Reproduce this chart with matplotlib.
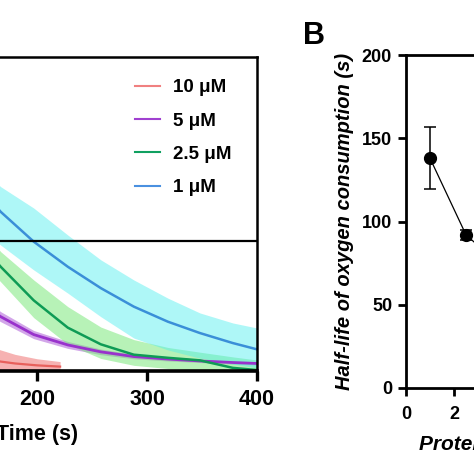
import numpy as np
import matplotlib
matplotlib.use("Agg")
import matplotlib.pyplot as plt

plt.rcParams['font.family'] = ['Liberation Sans', 'DejaVu Sans']

# panel A: oxygen traces (mean and band)
t = [160, 167, 197, 228, 258, 288, 319, 348, 378, 400]

blue_mid = [53.5, 50.7, 41.2, 33.2, 26.4, 20.5, 15.7, 12.1, 8.9, 6.9]
blue_hi = [61, 58.7, 51.9, 43.3, 35.4, 29, 23.2, 18.5, 15.3, 13.7]
blue_lo = [42, 40.1, 32.2, 24.8, 17.3, 10.5, 6.7, 4.1, 2.2, 1.0]

green_mid = [36, 33.2, 22.5, 13.8, 8.5, 5.2, 4.2, 3.4, 1.0, 0.3]
green_hi = [41, 38, 29, 20.5, 14, 10, 7.5, 6, 4.5, 3.5]
green_lo = [31, 28.4, 17, 8.5, 4, 1.8, 0.8, 0.3, 0, 0]

purple_mid = [19, 17.3, 11.6, 8.3, 6.1, 4.6, 3.8, 3.2, 2.7, 2.4]
purple_hi = [20.8, 18.9, 12.9, 9.4, 7.0, 5.3, 4.4, 3.7, 3.2, 2.9]
purple_lo = [17.2, 15.7, 10.3, 7.2, 5.2, 3.9, 3.2, 2.7, 2.2, 1.9]

t_red = [160, 167, 180, 200, 221]
red_mid = [3.5, 3.0, 2.4, 1.8, 1.4]
red_hi = [7.5, 6.7, 5.3, 3.9, 3.0]
red_lo = [0, 0, 0, 0, 0]

half_line = 41.4

# panel B: half-life vs protein concentration
conc = [1, 2.5, 5, 10]
half_life = [138, 92, 60, 35]
half_err = [18.5, 3, 3, 2]

fig = plt.figure(figsize=(4.74, 4.74), dpi=100)

# left panel sticks out past the left edge of the picture
ax1 = fig.add_axes([-183/474, 1 - 371/474, 440/474, 314/474])
ax1.fill_between(t_red, red_lo, red_hi, color='#F08080', alpha=0.6, lw=0)
ax1.fill_between(t, purple_lo, purple_hi, color='#C080E0', alpha=0.7, lw=0)
ax1.fill_between(t, green_lo, green_hi, color='#7CE87C', alpha=0.55, lw=0)
ax1.fill_between(t, blue_lo, blue_hi, color='#4DEEEE', alpha=0.45, lw=0)
l1, = ax1.plot(t_red, red_mid, color='#E8605C', lw=1.6, label='10 μM')
l2, = ax1.plot(t, purple_mid, color='#9932CC', lw=2.0, label='5 μM')
l3, = ax1.plot(t, green_mid, color='#0E9B55', lw=1.8, label='2.5 μM')
l4, = ax1.plot(t, blue_mid, color='#3A8FD8', lw=1.8, label='1 μM')
ax1.axhline(half_line, color='black', lw=1.6, zorder=5)

ax1.set_xlim(0, 400)
ax1.set_ylim(0, 100)
ax1.set_xticks([0, 100, 200, 300, 400])
ax1.set_xticklabels(['0', '100', '200', '300', '400'], fontsize=15.5, fontweight='bold')
ax1.set_yticks([])
ax1.tick_params(axis='x', direction='out', length=7, width=2.4, pad=6)
ax1.set_xlabel('Time (s)', fontsize=15.5, fontweight='bold', labelpad=10)
ax1.spines['bottom'].set_linewidth(2.6)
ax1.spines['top'].set_linewidth(1.8)
ax1.spines['right'].set_linewidth(1.8)

leg = ax1.legend(handles=[l1, l2, l3, l4], loc='upper left',
                 bbox_to_anchor=(135/474, 1 - 79/474), bbox_transform=fig.transFigure,
                 frameon=False, borderpad=0, borderaxespad=0,
                 handlelength=1.33, handletextpad=0.7, labelspacing=0.87,
                 prop={'size': 13.5, 'weight': 'bold'})
leg_colors = ['#F08080', '#A040D0', '#10A060', '#4A90E0']
for h, c in zip(leg.legend_handles, leg_colors):
    h.set_color(c)
    h.set_linewidth(1.5)

# right panel, also cut by the right edge
ax2 = fig.add_axes([406/474, 1 - 388/474, 288/474, 333/474])
ax2.errorbar(conc, half_life, yerr=half_err, fmt='o-', color='black',
             ms=8.5, lw=0.9, elinewidth=1.1, capsize=4.5, capthick=1.1)
ax2.set_xlim(0, 12)
ax2.set_ylim(0, 200)
ax2.set_xticks([0, 2, 4, 6, 8, 10, 12])
ax2.set_yticks([0, 50, 100, 150, 200])
for lab in ax2.get_xticklabels() + ax2.get_yticklabels():
    lab.set_fontsize(13)
    lab.set_fontweight('bold')
ax2.tick_params(direction='out', length=6, width=2, pad=4)
ax2.tick_params(axis='x', pad=7)
for s in ax2.spines.values():
    s.set_linewidth(2)
ax2.set_ylabel('Half-life of oxygen consumption (s)', fontsize=14.5,
               fontstyle='italic', fontweight='bold', labelpad=6)
ax2.set_xlabel('Protein concentration (μM)', fontsize=15,
               fontstyle='italic', fontweight='bold')
ax2.xaxis.set_label_coords(13/288, -0.14)
ax2.xaxis.label.set_ha('left')

fig.text(303/474, 1 - 36/474, 'B', fontsize=22, fontweight='bold', va='center', ha='left')

fig.savefig('out.png', dpi=100)
